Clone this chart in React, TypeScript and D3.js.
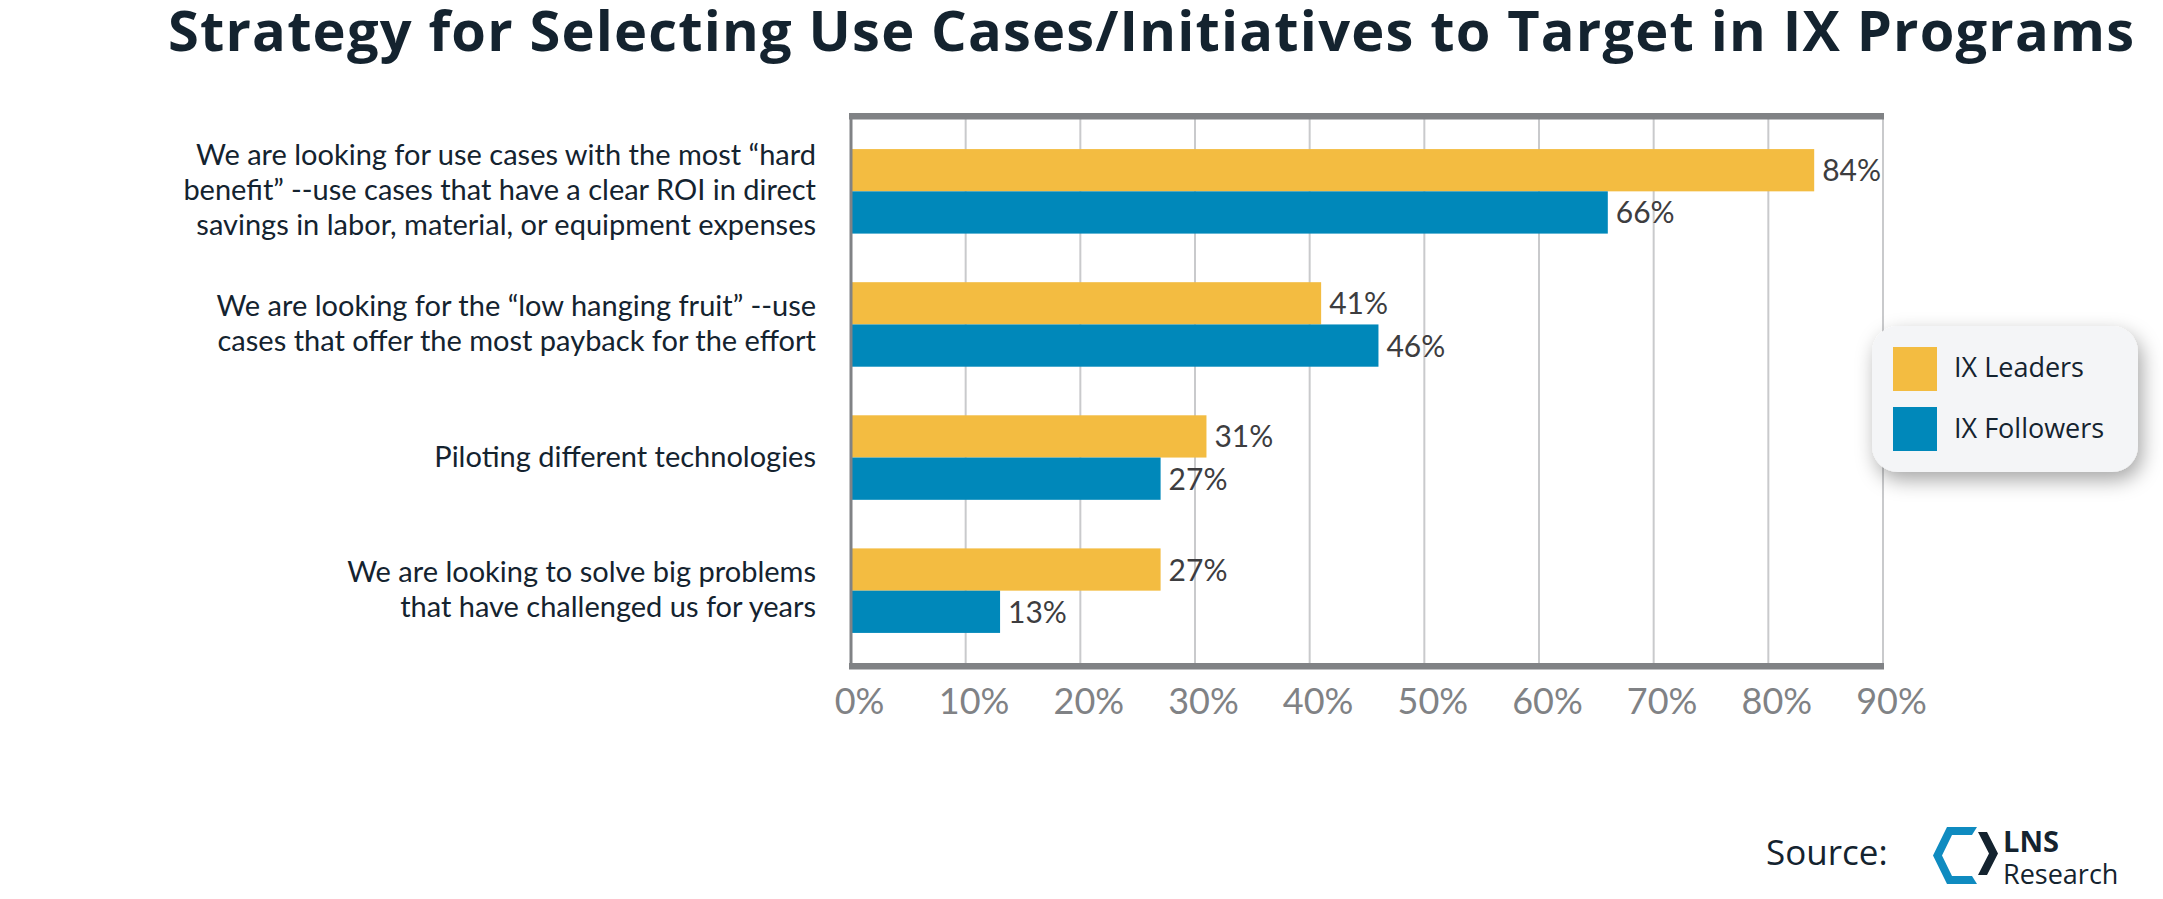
import { useEffect, useRef } from 'react';
import * as d3 from 'd3';

const categoryLines = [
  ['We are looking for use cases with the most “hard', 'benefit” --use cases that have a clear ROI in direct', 'savings in labor, material, or equipment expenses'],
  ['We are looking for the “low hanging fruit” --use', 'cases that offer the most payback for the effort'],
  ['Piloting different technologies'],
  ['We are looking to solve big problems', 'that have challenged us for years'],
];
const seriesNames = ['IX Leaders', 'IX Followers'];
const leaders = [84, 41, 31, 27];
const followers = [66, 46, 27, 13];
const tickValues = [0, 10, 20, 30, 40, 50, 60, 70, 80, 90];

const colors = ['#F3BC41', '#0088BA'];
const navy = '#14232F';
const FONT = "Lato, 'Open Sans', sans-serif";
const WIDE = "'Open Sans', Lato, sans-serif";

export default function App() {
  const ref = useRef<SVGSVGElement>(null);

  useEffect(() => {
    if (!ref.current) return;
    const svg = d3.select(ref.current);
    svg.selectAll('*').remove();

    const W = 2163, H = 899;
    const left = 851, right = 1883, top = 119, bottom = 663;

    const x = d3.scaleLinear().domain([0, 90]).range([left, right]);
    const ids = categoryLines.map((_, i) => String(i));
    const y0 = d3.scaleBand().domain(ids).range([top, bottom])
      .paddingInner(0.365).paddingOuter(0.226);
    const y1 = d3.scaleBand().domain(seriesNames).range([0, y0.bandwidth()]);

    svg.attr('width', W).attr('height', H);
    svg.append('rect').attr('width', W).attr('height', H).attr('fill', '#fff');

    const defs = svg.append('defs');
    const f = defs.append('filter').attr('id', 'shadow')
      .attr('x', '-30%').attr('y', '-30%').attr('width', '170%').attr('height', '180%');
    f.append('feDropShadow').attr('dx', 4).attr('dy', 8).attr('stdDeviation', 10)
      .attr('flood-color', '#000').attr('flood-opacity', 0.35);

    // title
    svg.append('text')
      .attr('x', 168).attr('y', 51)
      .text('Strategy for Selecting Use Cases/Initiatives to Target in IX Programs')
      .attr('font-family', WIDE).attr('font-size', 56).attr('font-weight', 700)
      .attr('textLength', 1966).attr('lengthAdjust', 'spacing')
      .attr('fill', navy);

    // gridlines
    svg.append('g').selectAll('line')
      .data(tickValues.slice(1))
      .enter().append('line')
      .attr('x1', d => x(d)).attr('x2', d => x(d))
      .attr('y1', top).attr('y2', bottom)
      .attr('stroke', '#C9CACC').attr('stroke-width', 2);

    // bars
    const rows = categoryLines.map((_, i) => [leaders[i], followers[i]]);
    const groups = svg.append('g').selectAll('g')
      .data(rows).enter().append('g')
      .attr('transform', (d, i) => `translate(0,${y0(String(i))})`);

    groups.selectAll('rect')
      .data(d => d)
      .enter().append('rect')
      .attr('x', x(0))
      .attr('y', (d, j) => y1(seriesNames[j]) || 0)
      .attr('width', d => x(d) - x(0))
      .attr('height', y1.bandwidth())
      .attr('fill', (d, j) => colors[j]);

    groups.selectAll('text')
      .data(d => d)
      .enter().append('text')
      .attr('x', d => x(d) + 8)
      .attr('y', (d, j) => (y1(seriesNames[j]) || 0) + y1.bandwidth() / 2 + 11)
      .text(d => `${d}%`)
      .attr('font-family', FONT).attr('font-size', 30)
      .attr('fill', '#3D3D3F');

    // category labels
    categoryLines.forEach((lines, i) => {
      const cy = (y0(String(i)) || 0) + y0.bandwidth() / 2 + 9;
      const t = svg.append('text')
        .attr('text-anchor', 'end')
        .attr('font-family', FONT).attr('font-size', 29)
        .attr('fill', navy);
      lines.forEach((ln, k) => {
        t.append('tspan')
          .attr('x', 816)
          .attr('y', cy + (k - (lines.length - 1) / 2) * 35)
          .text(ln);
      });
    });

    // frame
    svg.append('line').attr('x1', x(90)).attr('x2', x(90))
      .attr('y1', top).attr('y2', bottom)
      .attr('stroke', '#C9CACC').attr('stroke-width', 2);
    svg.append('rect').attr('x', x(0) - 2).attr('y', 113)
      .attr('width', x(90) - x(0) + 3).attr('height', 6.5).attr('fill', '#808285');
    svg.append('rect').attr('x', x(0) - 2).attr('y', bottom)
      .attr('width', x(90) - x(0) + 3).attr('height', 6.5).attr('fill', '#808285');
    svg.append('line').attr('x1', x(0)).attr('x2', x(0))
      .attr('y1', 113).attr('y2', bottom + 6)
      .attr('stroke', '#808285').attr('stroke-width', 3);

    // x axis
    const axis = svg.append('g')
      .attr('transform', `translate(0,${bottom + 6.5})`)
      .call(d3.axisBottom(x).tickValues(tickValues).tickFormat(d => `${d}%`)
        .tickSize(0).tickPadding(19));
    axis.select('.domain').remove();
    axis.selectAll('text')
      .attr('dx', 8)
      .attr('font-family', FONT).attr('font-size', 36)
      .attr('fill', '#808285');

    // legend
    const lg = svg.append('g').attr('transform', 'translate(1872,326)');
    lg.append('rect').attr('width', 266).attr('height', 146).attr('rx', 26)
      .attr('fill', '#F4F5F7').attr('filter', 'url(#shadow)');
    seriesNames.forEach((name, j) => {
      lg.append('rect').attr('x', 21).attr('y', 21 + j * 60)
        .attr('width', 44).attr('height', 44).attr('fill', colors[j]);
      lg.append('text').attr('x', 82).attr('y', 51 + j * 61)
        .text(name)
        .attr('font-family', WIDE).attr('font-size', 27).attr('fill', navy);
    });

    // source + logo
    svg.append('text').attr('x', 1766).attr('y', 865).text('Source:')
      .attr('font-family', WIDE).attr('font-size', 35).attr('fill', navy);
    svg.append('path')
      .attr('d', 'M1977,827 L1947,827 L1933,855.5 L1947,884 L1977,884 L1972,876 L1952,876 L1942,855.5 L1952,835 L1972,835 Z')
      .attr('fill', '#0F8BC0');
    svg.append('path')
      .attr('d', 'M1978,832 L1987,832 L1998,853.5 L1987,875 L1978,875 L1989,853.5 Z')
      .attr('fill', navy);
    svg.append('text').attr('x', 2003).attr('y', 852).text('LNS')
      .attr('font-family', WIDE).attr('font-size', 29).attr('font-weight', 700).attr('fill', navy);
    svg.append('text').attr('x', 2003).attr('y', 884).text('Research')
      .attr('font-family', WIDE).attr('font-size', 27).attr('fill', navy);
  }, []);

  return <svg ref={ref} style={{ position: 'absolute', left: 0, top: 0, display: 'block' }} />;
}
